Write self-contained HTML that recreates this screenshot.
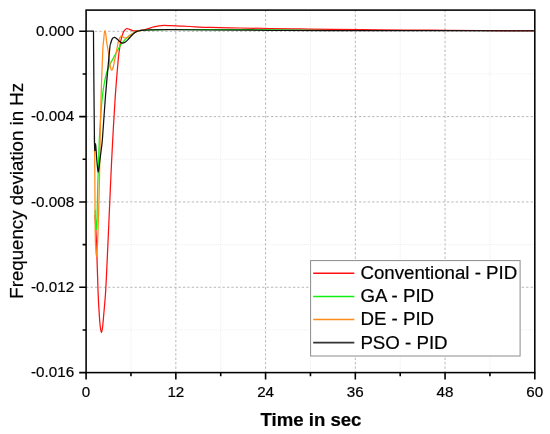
<!DOCTYPE html>
<html lang="en"><head><meta charset="utf-8"><title>Frequency deviation</title>
<style>html,body{margin:0;padding:0;background:#fff}svg{display:block}text{font-family:"Liberation Sans",sans-serif;fill:#000;stroke:#000;stroke-width:.2px}.mj{stroke:#b8b8b8;stroke-width:1;stroke-dasharray:2.4 2}.mn{stroke:#ebebeb;stroke-width:0.9;stroke-dasharray:1 1}</style></head><body>
<svg width="550" height="434" viewBox="0 0 550 434">
<rect width="550" height="434" fill="#fff"/>
<g fill="none">
<line x1="175.84" y1="10.00" x2="175.84" y2="372.60" class="mj"/>
<line x1="265.58" y1="10.00" x2="265.58" y2="372.60" class="mj"/>
<line x1="355.32" y1="10.00" x2="355.32" y2="372.60" class="mj"/>
<line x1="445.06" y1="10.00" x2="445.06" y2="372.60" class="mj"/>
<line x1="86.10" y1="31.30" x2="534.80" y2="31.30" class="mj"/>
<line x1="86.10" y1="116.62" x2="534.80" y2="116.62" class="mj"/>
<line x1="86.10" y1="201.95" x2="534.80" y2="201.95" class="mj"/>
<line x1="86.10" y1="287.28" x2="534.80" y2="287.28" class="mj"/>
<line x1="130.97" y1="10.00" x2="130.97" y2="372.60" class="mn"/>
<line x1="220.71" y1="10.00" x2="220.71" y2="372.60" class="mn"/>
<line x1="310.45" y1="10.00" x2="310.45" y2="372.60" class="mn"/>
<line x1="400.19" y1="10.00" x2="400.19" y2="372.60" class="mn"/>
<line x1="489.93" y1="10.00" x2="489.93" y2="372.60" class="mn"/>
<line x1="86.10" y1="73.96" x2="534.80" y2="73.96" class="mn"/>
<line x1="86.10" y1="159.29" x2="534.80" y2="159.29" class="mn"/>
<line x1="86.10" y1="244.61" x2="534.80" y2="244.61" class="mn"/>
<line x1="86.10" y1="329.94" x2="534.80" y2="329.94" class="mn"/>
</g>
<path d="M95.10 215.00C95.32 223.50 95.78 225.67 96.20 236.00C96.62 246.33 97.27 267.17 97.60 277.00C97.93 286.83 97.92 288.67 98.20 295.00C98.48 301.33 98.95 309.67 99.30 315.00C99.65 320.33 99.94 324.07 100.30 327.00C100.66 329.93 101.07 332.60 101.45 332.60C101.83 332.60 102.22 329.93 102.60 327.00C102.97 324.07 103.23 320.33 103.70 315.00C104.17 309.67 104.95 301.33 105.40 295.00C105.85 288.67 105.88 287.67 106.40 277.00C106.92 266.33 107.82 246.33 108.50 231.00C109.18 215.67 109.82 199.83 110.50 185.00C111.18 170.17 111.80 156.83 112.60 142.00C113.40 127.17 114.37 109.67 115.30 96.00C116.23 82.33 117.52 67.67 118.20 60.00C118.88 52.33 118.93 53.33 119.40 50.00C119.87 46.67 120.40 42.83 121.00 40.00C121.60 37.17 122.33 34.70 123.00 33.00C123.67 31.30 124.35 30.52 125.00 29.80C125.65 29.08 126.23 28.80 126.90 28.70C127.57 28.60 128.23 28.95 129.00 29.20C129.77 29.45 130.58 29.92 131.50 30.20C132.42 30.48 133.33 30.80 134.50 30.90C135.67 31.00 137.13 30.92 138.50 30.80C139.87 30.68 141.08 30.55 142.70 30.20C144.32 29.85 146.38 29.25 148.20 28.70C150.02 28.15 151.80 27.38 153.60 26.90C155.40 26.42 157.27 26.05 159.00 25.80C160.73 25.55 162.17 25.43 164.00 25.40C165.83 25.37 167.33 25.48 170.00 25.60C172.67 25.72 176.67 25.95 180.00 26.10C183.33 26.25 185.00 26.28 190.00 26.50C195.00 26.72 201.67 27.15 210.00 27.40C218.33 27.65 230.00 27.82 240.00 28.00C250.00 28.18 260.00 28.35 270.00 28.50C280.00 28.65 290.00 28.77 300.00 28.90C310.00 29.03 316.67 29.15 330.00 29.30C343.33 29.45 363.33 29.65 380.00 29.80C396.67 29.95 413.33 30.08 430.00 30.20C446.67 30.32 462.53 30.42 480.00 30.50C497.47 30.58 525.67 30.67 534.80 30.70" fill="none" stroke="#ff1010" stroke-width="1.25" stroke-linejoin="round"/>
<path d="M95.10 210.00C95.25 216.50 95.57 220.83 95.80 224.00C96.03 227.17 96.28 230.50 96.50 229.00C96.72 227.50 96.90 222.00 97.10 215.00C97.30 208.00 97.50 194.50 97.70 187.00C97.90 179.50 98.03 177.83 98.30 170.00C98.57 162.17 98.92 148.67 99.30 140.00C99.68 131.33 100.08 125.33 100.60 118.00C101.12 110.67 101.80 101.67 102.40 96.00C103.00 90.33 103.53 87.75 104.20 84.00C104.87 80.25 105.60 76.42 106.40 73.50C107.20 70.58 108.02 68.75 109.00 66.50C109.98 64.25 111.30 61.92 112.30 60.00C113.30 58.08 114.08 56.67 115.00 55.00C115.92 53.33 116.82 51.77 117.80 50.00C118.78 48.23 119.70 46.10 120.90 44.40C122.10 42.70 123.82 41.03 125.00 39.80C126.18 38.57 127.00 37.87 128.00 37.00C129.00 36.13 130.00 35.32 131.00 34.60C132.00 33.88 133.00 33.23 134.00 32.70C135.00 32.17 135.83 31.77 137.00 31.40C138.17 31.03 138.83 30.73 141.00 30.50C143.17 30.27 145.17 30.17 150.00 30.00C154.83 29.83 160.00 29.58 170.00 29.50C180.00 29.42 193.33 29.43 210.00 29.50C226.67 29.57 250.00 29.73 270.00 29.90C290.00 30.07 320.00 30.40 330.00 30.50" fill="none" stroke="#10f010" stroke-width="1.25" stroke-linejoin="round"/>
<path d="M94.40 136.00C94.50 145.33 94.52 142.83 94.60 151.00C94.68 159.17 94.80 171.50 94.90 185.00C95.00 198.50 95.05 221.17 95.20 232.00C95.35 242.83 95.58 245.88 95.80 250.00C96.02 254.12 96.27 256.70 96.50 256.70C96.73 256.70 96.95 254.12 97.20 250.00C97.45 245.88 97.65 242.50 98.00 232.00C98.35 221.50 98.95 202.00 99.30 187.00C99.65 172.00 99.80 157.17 100.10 142.00C100.40 126.83 100.65 111.33 101.10 96.00C101.55 80.67 102.38 59.17 102.80 50.00C103.22 40.83 103.35 43.75 103.60 41.00C103.85 38.25 104.08 35.23 104.30 33.50C104.52 31.77 104.67 30.60 104.90 30.60C105.13 30.60 105.38 31.43 105.70 33.50C106.02 35.57 106.42 40.25 106.80 43.00C107.18 45.75 107.57 47.17 108.00 50.00C108.43 52.83 108.98 57.08 109.40 60.00C109.82 62.92 110.10 65.77 110.50 67.50C110.90 69.23 111.37 70.40 111.80 70.40C112.23 70.40 112.62 69.23 113.10 67.50C113.58 65.77 114.10 62.92 114.70 60.00C115.30 57.08 116.07 53.17 116.70 50.00C117.33 46.83 117.80 43.32 118.50 41.00C119.20 38.68 120.18 36.80 120.90 36.10C121.62 35.40 122.17 36.48 122.80 36.80C123.43 37.12 124.08 37.87 124.70 38.00C125.32 38.13 125.95 37.80 126.50 37.60C127.05 37.40 127.25 37.30 128.00 36.80C128.75 36.30 130.00 35.28 131.00 34.60C132.00 33.92 133.00 33.23 134.00 32.70C135.00 32.17 135.83 31.77 137.00 31.40C138.17 31.03 140.33 30.65 141.00 30.50" fill="none" stroke="#ff8c1a" stroke-width="1.25" stroke-linejoin="round"/>
<path d="M86.10 31.2L93.5 31.2L93.50 31.20C93.52 34.33 93.52 39.37 93.60 50.00C93.68 60.63 93.87 80.67 94.00 95.00C94.13 109.33 94.30 127.50 94.40 136.00C94.50 144.50 94.53 143.58 94.60 146.00C94.67 148.42 94.72 150.33 94.80 150.50C94.88 150.67 94.98 148.17 95.10 147.00C95.22 145.83 95.37 143.50 95.50 143.50C95.63 143.50 95.77 145.42 95.90 147.00C96.03 148.58 96.13 150.67 96.30 153.00C96.47 155.33 96.68 158.42 96.90 161.00C97.12 163.58 97.38 166.63 97.60 168.50C97.82 170.37 97.98 172.20 98.20 172.20C98.42 172.20 98.63 170.37 98.90 168.50C99.17 166.63 99.42 164.08 99.80 161.00C100.18 157.92 100.75 153.83 101.20 150.00C101.65 146.17 101.78 147.00 102.50 138.00C103.22 129.00 104.32 110.67 105.50 96.00C106.68 81.33 108.72 58.83 109.60 50.00C110.48 41.17 110.33 44.88 110.80 43.00C111.27 41.12 111.80 39.63 112.40 38.70C113.00 37.77 113.72 37.45 114.40 37.40C115.08 37.35 115.82 37.90 116.50 38.40C117.18 38.90 117.83 39.75 118.50 40.40C119.17 41.05 119.83 41.85 120.50 42.30C121.17 42.75 121.75 43.10 122.50 43.10C123.25 43.10 124.08 42.88 125.00 42.30C125.92 41.72 127.00 40.62 128.00 39.60C129.00 38.58 130.00 37.27 131.00 36.20C132.00 35.13 133.00 34.00 134.00 33.20C135.00 32.40 135.83 31.87 137.00 31.40C138.17 30.93 138.83 30.65 141.00 30.40C143.17 30.15 145.17 30.02 150.00 29.90C154.83 29.78 160.00 29.68 170.00 29.70C180.00 29.72 193.33 29.90 210.00 30.00C226.67 30.10 250.00 30.20 270.00 30.30C290.00 30.40 285.87 30.52 330.00 30.60C374.13 30.68 500.67 30.77 534.80 30.80" fill="none" stroke="#111" stroke-width="1.25" stroke-linejoin="round"/>
<rect x="86.10" y="10.10" width="448.70" height="362.50" fill="none" stroke="#000" stroke-width="1.55"/>
<path d="M79.20 31.30H86.10M79.20 116.62H86.10M79.20 201.95H86.10M79.20 287.28H86.10M79.20 372.60H86.10M82.60 73.96H86.10M82.60 159.29H86.10M82.60 244.61H86.10M82.60 329.94H86.10M86.10 372.60V379.60M175.84 372.60V379.60M265.58 372.60V379.60M355.32 372.60V379.60M445.06 372.60V379.60M534.80 372.60V379.60M130.97 372.60V376.30M220.71 372.60V376.30M310.45 372.60V376.30M400.19 372.60V376.30M489.93 372.60V376.30" stroke="#000" stroke-width="1.6" fill="none"/>
<text x="74.1" y="36.10" font-size="15.2" text-anchor="end">0.000</text>
<text x="74.1" y="121.42" font-size="15.2" text-anchor="end">-0.004</text>
<text x="74.1" y="206.75" font-size="15.2" text-anchor="end">-0.008</text>
<text x="74.1" y="292.08" font-size="15.2" text-anchor="end">-0.012</text>
<text x="74.1" y="377.40" font-size="15.2" text-anchor="end">-0.016</text>
<text x="86.10" y="397.2" font-size="15.2" text-anchor="middle">0</text>
<text x="175.84" y="397.2" font-size="15.2" text-anchor="middle">12</text>
<text x="265.58" y="397.2" font-size="15.2" text-anchor="middle">24</text>
<text x="355.32" y="397.2" font-size="15.2" text-anchor="middle">36</text>
<text x="445.06" y="397.2" font-size="15.2" text-anchor="middle">48</text>
<text x="534.80" y="397.2" font-size="15.2" text-anchor="middle">60</text>
<text x="311" y="426.3" font-size="18.6" font-weight="bold" stroke-width="0" text-anchor="middle">Time in sec</text>
<text transform="translate(23 190.8) rotate(-90)" font-size="18.67" text-anchor="middle">Frequency deviation in Hz</text>
<rect x="310.6" y="260.6" width="209.5" height="95.4" fill="#fff" stroke="#8c8c8c" stroke-width="1"/>
<line x1="313.2" y1="273.30" x2="354.3" y2="273.30" stroke="#ff1010" stroke-width="1.5"/>
<text x="360.4" y="279.20" font-size="18.7">Conventional - PID</text>
<line x1="313.2" y1="296.43" x2="354.3" y2="296.43" stroke="#10f010" stroke-width="1.5"/>
<text x="360.4" y="302.33" font-size="18.7">GA - PID</text>
<line x1="313.2" y1="319.56" x2="354.3" y2="319.56" stroke="#ff8c1a" stroke-width="1.5"/>
<text x="360.4" y="325.46" font-size="18.7">DE - PID</text>
<line x1="313.2" y1="342.69" x2="354.3" y2="342.69" stroke="#333" stroke-width="1.8"/>
<text x="360.4" y="348.59" font-size="18.7">PSO - PID</text>
</svg></body></html>
